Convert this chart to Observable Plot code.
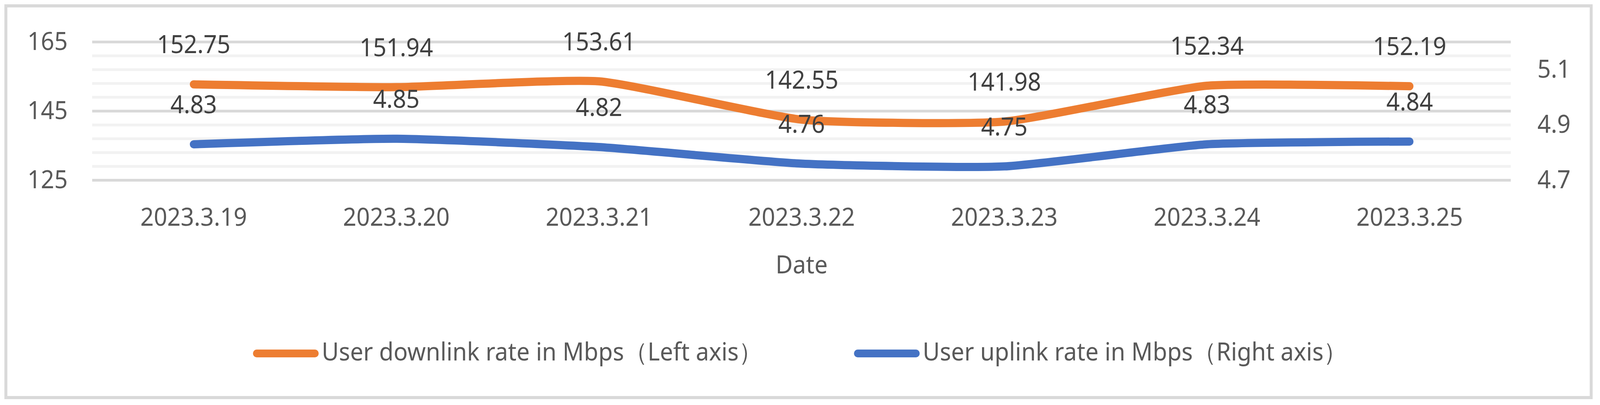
<!DOCTYPE html>
<html>
<head>
<meta charset="utf-8">
<script src="https://cdn.jsdelivr.net/npm/d3@7"></script>
<script src="https://cdn.jsdelivr.net/npm/@observablehq/plot@0.6"></script>
<style>
  html, body { margin: 0; padding: 0; background: #fff; overflow: hidden; }
  body { height: 1037px; font-family: "Noto Sans", sans-serif; }
  #wrap { position: absolute; left: 0; top: 0; width: 4358px; height: 1037px; transform-origin: 0 0; }
  #frame { position: absolute; left: 12px; top: 11px; width: 4326px; height: 1011px; box-sizing: border-box; border: 8px solid #d9d9d9; }
  #chart { position: absolute; left: 0; top: 0; }
  #legend { position: absolute; left: 0; width: 4358px; top: 860px; height: 80px; display: flex; justify-content: center; align-items: center; gap: 250px; color: #595959; font-size: 64px; }
  .item { display: flex; align-items: center; gap: 8px; white-space: nowrap; }
  .sw { width: 179px; height: 20px; border-radius: 10px; margin-top: 10px; }
</style>
</head>
<body>
<div id="wrap">
  <div id="frame"></div>
  <div id="chart"></div>
  <div id="legend"></div>
</div>
<script>
const dates = ["2023.3.19", "2023.3.20", "2023.3.21", "2023.3.22", "2023.3.23", "2023.3.24", "2023.3.25"];
const downlink = [152.75, 151.94, 153.61, 142.55, 141.98, 152.34, 152.19];
const uplink = [4.83, 4.85, 4.82, 4.76, 4.75, 4.83, 4.84];
const leftTicks = [125, 145, 165];
const leftMinor = [129, 133, 137, 141, 149, 153, 157, 161];
const rightTicks = [4.7, 4.9, 5.1];
const leftDomain = [125, 165];
const rightDomain = [4.7, 5.2];
const seriesNames = ["User downlink rate in Mbps（Left axis）", "User uplink rate in Mbps（Right axis）"];
const colors = ["#ED7D31", "#4472C4"];

const toLeft = v => leftDomain[0] + (v - rightDomain[0]) / (rightDomain[1] - rightDomain[0]) * (leftDomain[1] - leftDomain[0]);
const fromLeft = v => rightDomain[0] + (v - leftDomain[0]) / (leftDomain[1] - leftDomain[0]) * (rightDomain[1] - rightDomain[0]);

const down = dates.map((d, i) => ({date: d, value: downlink[i], label: downlink[i].toFixed(2)}));
const up = dates.map((d, i) => ({date: d, value: toLeft(uplink[i]), label: uplink[i].toFixed(2)}));

const chart = Plot.plot({
  width: 4358,
  height: 760,
  marginTop: 107,
  marginBottom: 299,
  marginLeft: 251,
  marginRight: 243,
  style: {fontFamily: "Noto Sans, sans-serif", fontSize: "64px", color: "#595959", background: "transparent", maxWidth: "none"},
  x: {type: "point", domain: dates, padding: 0.5},
  y: {domain: leftDomain},
  marks: [
    Plot.ruleY(leftMinor, {stroke: "#f2f2f2", strokeWidth: 7}),
    Plot.ruleY(leftTicks, {stroke: "#d9d9d9", strokeWidth: 7}),
    Plot.axisY({anchor: "left", ticks: leftTicks, tickSize: 0, tickPadding: 67, label: null, fontSize: 64}),
    Plot.axisY({anchor: "right", ticks: rightTicks.map(toLeft), tickFormat: d => fromLeft(d).toFixed(1), tickSize: 0, tickPadding: 72, label: null, fontSize: 64}),
    Plot.axisX({anchor: "bottom", tickSize: 0, tickPadding: 71, label: null, fontSize: 64}),
    Plot.line(down, {x: "date", y: "value", stroke: colors[0], strokeWidth: 21, curve: "cardinal", tension: 0.5, strokeLinecap: "round", strokeLinejoin: "round"}),
    Plot.line(up, {x: "date", y: "value", stroke: colors[1], strokeWidth: 21, curve: "cardinal", tension: 0.5, strokeLinecap: "round", strokeLinejoin: "round"}),
    Plot.text(down, {x: "date", y: "value", text: "label", dy: -100, lineAnchor: "middle", fill: "#404040", fontSize: 64}),
    Plot.text(up, {x: "date", y: "value", text: "label", dy: -100, lineAnchor: "middle", fill: "#404040", fontSize: 64}),
    Plot.text(["Date"], {frameAnchor: "bottom", dy: 218, lineAnchor: "middle", fill: "#595959", fontSize: 64})
  ]
});
document.getElementById("chart").appendChild(chart);

const legend = document.getElementById("legend");
seriesNames.forEach((name, i) => {
  const item = document.createElement("div");
  item.className = "item";
  const sw = document.createElement("div");
  sw.className = "sw";
  sw.style.background = colors[i];
  const t = document.createElement("span");
  t.textContent = name;
  item.appendChild(sw);
  item.appendChild(t);
  legend.appendChild(item);
});

// The viewport can be narrower than 4358px; fit the 4358-wide layout to it horizontally.
const s = Math.min(1, window.innerWidth / 4358);
document.getElementById("wrap").style.transform = "scale(" + s + ", 1)";
</script>
</body>
</html>
